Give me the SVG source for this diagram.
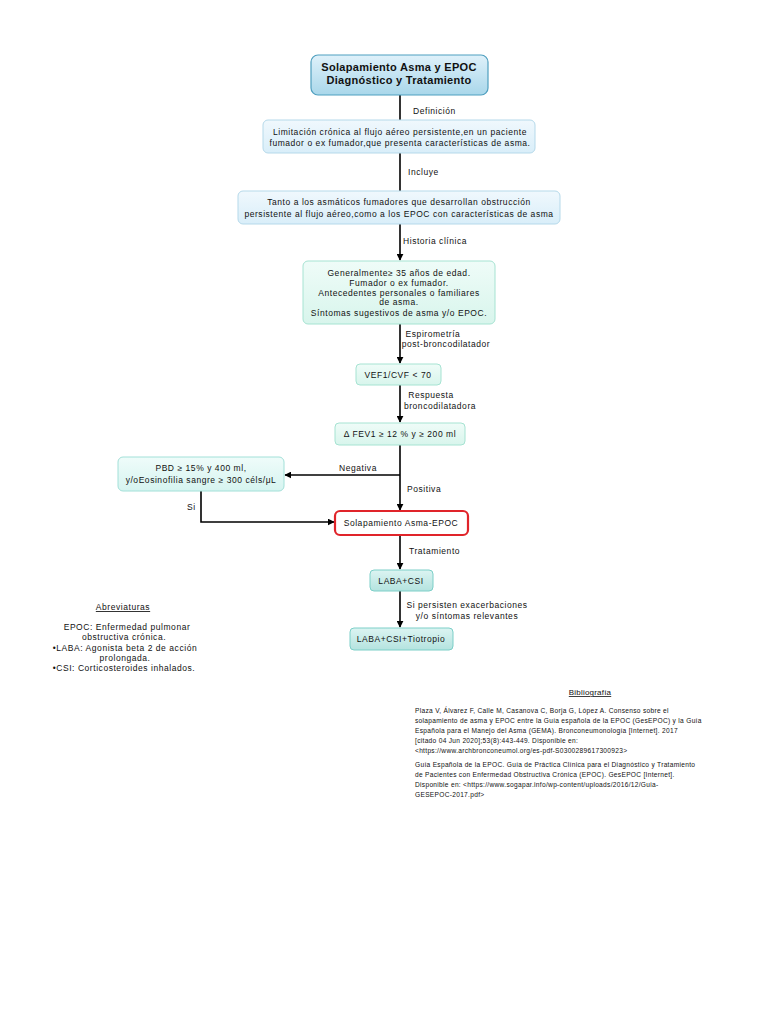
<svg xmlns="http://www.w3.org/2000/svg" width="768" height="1024" viewBox="0 0 768 1024">
<defs>
<linearGradient id="gTitle" x1="0" y1="0" x2="0" y2="1"><stop offset="0" stop-color="#dff1fa"/><stop offset="1" stop-color="#a9d7ea"/></linearGradient>
<linearGradient id="gBlue" x1="0" y1="0" x2="0" y2="1"><stop offset="0" stop-color="#f0f8fd"/><stop offset="1" stop-color="#d9eef9"/></linearGradient>
<linearGradient id="gGreen" x1="0" y1="0" x2="0" y2="1"><stop offset="0" stop-color="#effcf8"/><stop offset="1" stop-color="#d8f5ec"/></linearGradient>
<linearGradient id="gCyan" x1="0" y1="0" x2="0" y2="1"><stop offset="0" stop-color="#effcfa"/><stop offset="1" stop-color="#d6f4f0"/></linearGradient>
<linearGradient id="gTeal" x1="0" y1="0" x2="0" y2="1"><stop offset="0" stop-color="#dcf4f2"/><stop offset="1" stop-color="#b4e3df"/></linearGradient>
<marker id="arr" viewBox="0 0 10 10" refX="9" refY="5" markerWidth="7" markerHeight="7" markerUnits="userSpaceOnUse" orient="auto"><path d="M0,0 L10,5 L0,10 z" fill="#000"/></marker>
<style>
text{font-family:"Liberation Sans",Arial,sans-serif;fill:#111;letter-spacing:0.55px;}
.t{font-size:8.5px;text-anchor:middle;}
.l{font-size:8.5px;}
.title{font-size:11px;font-weight:bold;text-anchor:middle;letter-spacing:0.3px;}
.c{stroke:#000;stroke-width:1.6;fill:none;}
.bib{font-family:"Liberation Sans",sans-serif;font-size:6.6px;letter-spacing:0.3px;}
</style>
</defs>
<rect width="768" height="1024" fill="#fff"/>
<g id="connectors">
<line class="c" x1="400" y1="95" x2="400" y2="120"/>
<line class="c" x1="400" y1="153" x2="400" y2="191"/>
<line class="c" x1="400" y1="224" x2="400" y2="260" marker-end="url(#arr)"/>
<line class="c" x1="400" y1="324" x2="400" y2="363" marker-end="url(#arr)"/>
<line class="c" x1="400" y1="385" x2="400" y2="422" marker-end="url(#arr)"/>
<line class="c" x1="400" y1="445" x2="400" y2="510" marker-end="url(#arr)"/>
<line class="c" x1="400" y1="475" x2="285" y2="475" marker-end="url(#arr)"/>
<polyline class="c" points="201,491 201,522 334,522" marker-end="url(#arr)"/>
<line class="c" x1="400" y1="535" x2="400" y2="569" marker-end="url(#arr)"/>
<line class="c" x1="400" y1="591" x2="400" y2="627" marker-end="url(#arr)"/>
<text class="l" x="413" y="114">Definición</text>
<text class="l" x="408" y="175">Incluye</text>
<text class="l" x="403" y="244">Historia clínica</text>
<text class="t" x="433" y="337">Espirometría</text>
<text class="t" x="446" y="347">post-broncodilatador</text>
<text class="t" x="431" y="398">Respuesta</text>
<text class="t" x="440" y="409">broncodilatadora</text>
<text class="l" x="339" y="471">Negativa</text>
<text class="l" x="407" y="492">Positiva</text>
<text class="l" x="187" y="510">Si</text>
<text class="l" x="409" y="554">Tratamiento</text>
<text class="t" x="467" y="608">Si persisten exacerbaciones</text>
<text class="t" x="467" y="619">y/o síntomas relevantes</text>
</g>
<g id="n-title">
<rect x="311" y="55" width="177" height="40" rx="7" fill="url(#gTitle)" stroke="#4f9fbf" stroke-width="1.2"/>
<text class="title" x="399" y="71">Solapamiento Asma y EPOC</text>
<text class="title" x="399" y="84">Diagnóstico y Tratamiento</text>
</g>
<g id="n-definicion">
<rect x="263" y="120" width="272" height="33" rx="5" fill="url(#gBlue)" stroke="#b5d9ea" stroke-width="1"/>
<text class="t" x="400" y="135">Limitación crónica al flujo aéreo persistente,en un paciente</text>
<text class="t" x="400" y="146">fumador o ex fumador,que presenta características de asma.</text>
</g>
<g id="n-incluye">
<rect x="238" y="191" width="322" height="33" rx="5" fill="url(#gBlue)" stroke="#b5d9ea" stroke-width="1"/>
<text class="t" x="399" y="205">Tanto a los asmáticos fumadores que desarrollan obstrucción</text>
<text class="t" x="399" y="217">persistente al flujo aéreo,como a los EPOC con características de asma</text>
</g>
<g id="n-historia">
<rect x="303" y="261" width="192" height="63" rx="5" fill="url(#gGreen)" stroke="#a6e3d2" stroke-width="1"/>
<text class="t" x="399" y="276">Generalmente≥ 35 años de edad.</text>
<text class="t" x="399" y="286">Fumador o ex fumador.</text>
<text class="t" x="399" y="296">Antecedentes personales o familiares</text>
<text class="t" x="399" y="305">de asma.</text>
<text class="t" x="399" y="316">Síntomas sugestivos de asma y/o EPOC.</text>
</g>
<g id="n-vef">
<rect x="356" y="364" width="85" height="21" rx="4" fill="url(#gGreen)" stroke="#a6e3d2" stroke-width="1"/>
<text class="t" x="398" y="378">VEF1/CVF &lt; 70</text>
</g>
<g id="n-fev">
<rect x="335" y="423" width="130" height="22" rx="4" fill="url(#gGreen)" stroke="#a6e3d2" stroke-width="1"/>
<text class="t" x="400" y="437">Δ FEV1 ≥ 12 % y ≥ 200 ml</text>
</g>
<g id="n-pbd">
<rect x="118" y="457" width="166" height="34" rx="5" fill="url(#gCyan)" stroke="#a2e0d8" stroke-width="1"/>
<text class="t" x="201" y="471">PBD ≥ 15% y 400 ml,</text>
<text class="t" x="201" y="483">y/oEosinofilia sangre ≥ 300 céls/μL</text>
</g>
<g id="n-solapamiento">
<rect x="335" y="511" width="133" height="24" rx="5" fill="#fff" stroke="#e0242a" stroke-width="2.2"/>
<text class="t" x="401" y="526">Solapamiento Asma-EPOC</text>
</g>
<g id="n-laba">
<rect x="370" y="570" width="63" height="21" rx="4" fill="url(#gTeal)" stroke="#7ccfc8" stroke-width="1"/>
<text class="t" x="401" y="584">LABA+CSI</text>
</g>
<g id="n-tiotropio">
<rect x="350" y="628" width="103" height="22" rx="4" fill="url(#gTeal)" stroke="#7ccfc8" stroke-width="1"/>
<text class="t" x="401" y="642">LABA+CSI+Tiotropio</text>
</g>
<g id="abreviaturas">
<text class="t" x="123" y="610" text-decoration="underline">Abreviaturas</text>
<text class="t" x="127" y="630">EPOC: Enfermedad pulmonar</text>
<text class="t" x="124" y="640">obstructiva crónica.</text>
<text class="t" x="125" y="651">•LABA: Agonista beta 2 de acción</text>
<text class="t" x="125" y="661">prolongada.</text>
<text class="t" x="124" y="671">•CSI: Corticosteroides inhalados.</text>
</g>
<g id="bibliografia">
<text class="t" x="590" y="695" style="font-size:8px;letter-spacing:0.2px" text-decoration="underline">Bibliografía</text>
<text class="bib" x="415" y="713">Plaza V, Álvarez F, Calle M, Casanova C, Borja G, López A. Consenso sobre el</text>
<text class="bib" x="415" y="723">solapamiento de asma y EPOC entre la Guía española de la EPOC (GesEPOC) y la Guía</text>
<text class="bib" x="415" y="733">Española para el Manejo del Asma (GEMA). Bronconeumonología [Internet]. 2017</text>
<text class="bib" x="415" y="743">[citado 04 Jun 2020];53(8):443-449. Disponible en:</text>
<text class="bib" x="415" y="753">&lt;https://www.archbronconeumol.org/es-pdf-S0300289617300923&gt;</text>
<text class="bib" x="415" y="767">Guía Española de la EPOC. Guía de Práctica Clínica para el Diagnóstico y Tratamiento</text>
<text class="bib" x="415" y="777">de Pacientes con Enfermedad Obstructiva Crónica (EPOC). GesEPOC [Internet].</text>
<text class="bib" x="415" y="787">Disponible en: &lt;https://www.sogapar.info/wp-content/uploads/2016/12/Guia-</text>
<text class="bib" x="415" y="797">GESEPOC-2017.pdf&gt;</text>
</g>
</svg>
